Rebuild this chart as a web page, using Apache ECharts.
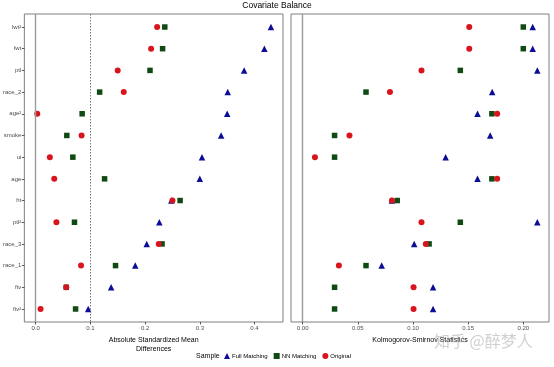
<!DOCTYPE html>
<html>
<head>
<meta charset="utf-8">
<script src="https://cdn.jsdelivr.net/npm/echarts@6/dist/echarts.min.js"></script>
<style>html,body{margin:0;padding:0;background:#fff}#c{width:554px;height:367px}</style>
</head>
<body>
<div id="c"></div>
<script>
var covariates = ['lwt\u00b2','lwt','ptl','race_2','age\u00b2','smoke','ui','age','ht','ptl\u00b2','race_3','race_1','ftv','ftv\u00b2'];
var asmdFull = [0.430,0.418,0.381,0.351,0.350,0.339,0.304,0.300,0.248,0.226,0.203,0.182,0.138,0.096];
var asmdNN   = [0.236,0.232,0.209,0.117,0.085,0.057,0.068,0.126,0.264,0.071,0.231,0.146,0.056,0.073];
var asmdOrig = [0.222,0.211,0.150,0.161,0.003,0.084,0.026,0.034,0.250,0.038,0.225,0.083,0.056,0.009];
var ksFull = [0.2085,0.2085,0.2127,0.1718,0.1585,0.1700,0.1296,0.1585,0.0809,0.2127,0.1011,0.0716,0.1182,0.1182];
var ksNN   = [0.2000,0.2000,0.1429,0.0574,0.1715,0.0289,0.0289,0.1715,0.0857,0.1429,0.1146,0.0574,0.0289,0.0289];
var ksOrig = [0.1510,0.1510,0.1077,0.0791,0.1763,0.0424,0.0111,0.1763,0.0809,0.1077,0.1116,0.0328,0.1005,0.1005];
var asmdTicks = [0,0.1,0.2,0.3,0.4];
var ksTicks = [0,0.05,0.1,0.15,0.2];
var sampleNames = ['Full Matching','NN Matching','Original'];

var FONT = 'Liberation Sans, Arial, sans-serif';
var colors = {full:'#0c0c96', nn:'#0f4a12', orig:'#d8141e'};
var idx = covariates.map(function(_, i){ return i; });
function pts(arr){ return arr.map(function(v,i){ return [v,i]; }); }

function mkY(gi){
  return {
    type:'value', gridIndex:gi, inverse:true, min:-0.6, max:13.6,
    splitLine:{show:false}, axisLine:{show:false, onZero:false},
    axisTick:{show:gi===0, length:2.5, lineStyle:{color:'#333',width:0.8}, customValues:idx},
    axisLabel:{show:gi===0, customValues:idx, fontSize:6, color:'#4d4d4d', fontFamily:FONT, margin:3,
      formatter:function(v){ return covariates[v]; }}
  };
}
function mkX(gi, min, max, ticks, dec, name){
  return {
    type:'value', gridIndex:gi, min:min, max:max,
    splitLine:{show:false}, axisLine:{show:false, onZero:false},
    axisTick:{show:true, length:2.5, lineStyle:{color:'#333',width:0.8}, customValues:ticks},
    axisLabel:{customValues:ticks, fontSize:6, color:'#4d4d4d', fontFamily:FONT, margin:3,
      formatter:function(v){ return v.toFixed(dec); }},
    name:name, nameLocation:'middle', nameGap:10,
    nameTextStyle:{fontSize:7, color:'#000', fontFamily:FONT, lineHeight:8.5, verticalAlign:'top'}
  };
}
function sym(name, type, color, data, gi, extra){
  var s = {name:name, type:'scatter', xAxisIndex:gi, yAxisIndex:gi, symbol:type,
    symbolSize: type==='triangle'?6.5:(type==='rect'?5.5:6), itemStyle:{color:color, opacity:1}, data:data, silent:true};
  if (extra) s.markLine = extra;
  return s;
}
var ml0 = {silent:true, symbol:'none', label:{show:false}, animation:false,
  data:[{xAxis:0, lineStyle:{color:'#9a9a9a', width:1.4, type:'solid'}}]};
var ml1 = {silent:true, symbol:'none', label:{show:false}, animation:false,
  data:[{xAxis:0, lineStyle:{color:'#9a9a9a', width:1.4, type:'solid'}},
        {xAxis:0.1, lineStyle:{color:'#555', width:0.8, type:[1.5,1.5]}}]};

var chart = echarts.init(document.getElementById('c'), null, {renderer:'canvas'});
chart.setOption({
  animation:false,
  backgroundColor:'#fff',
  title:{text:'Covariate Balance', left:'center', top:1, padding:0, textStyle:{fontSize:8.5, fontWeight:'normal', color:'#000', fontFamily:FONT}},
  grid:[
    {left:24, top:14, width:259, height:308, show:true, borderColor:'#7f7f7f', borderWidth:1, backgroundColor:'transparent'},
    {left:291, top:14, width:258, height:308, show:true, borderColor:'#7f7f7f', borderWidth:1, backgroundColor:'transparent'}
  ],
  xAxis:[
    mkX(0, -0.0206, 0.452, asmdTicks, 1, 'Absolute Standardized Mean\nDifferences'),
    mkX(1, -0.0106, 0.2233, ksTicks, 2, 'Kolmogorov-Smirnov Statistics')
  ],
  yAxis:[mkY(0), mkY(1)],
  legend:{data:sampleNames, left:224, top:353, padding:0, itemWidth:6, itemHeight:6, itemGap:6, selectedMode:false,
    textStyle:{fontSize:6, color:'#000', fontFamily:FONT, padding:[0,0,0,-3]}},
  graphic:[
    {type:'text', left:196, top:352.5, style:{text:'Sample', fontSize:7, fill:'#000', fontFamily:FONT}},
    {type:'text', left:434, top:333, z:100, style:{text:'知乎 @醉梦人', fontSize:16, fill:'rgba(170,170,170,0.55)', fontFamily:'Noto Sans CJK SC'}}
  ],
  series:[
    sym(sampleNames[0], 'triangle', colors.full, pts(asmdFull), 0, ml1),
    sym(sampleNames[1], 'rect', colors.nn, pts(asmdNN), 0),
    sym(sampleNames[2], 'circle', colors.orig, pts(asmdOrig), 0),
    sym(sampleNames[0], 'triangle', colors.full, pts(ksFull), 1, ml0),
    sym(sampleNames[1], 'rect', colors.nn, pts(ksNN), 1),
    sym(sampleNames[2], 'circle', colors.orig, pts(ksOrig), 1)
  ]
});
</script>
</body>
</html>
